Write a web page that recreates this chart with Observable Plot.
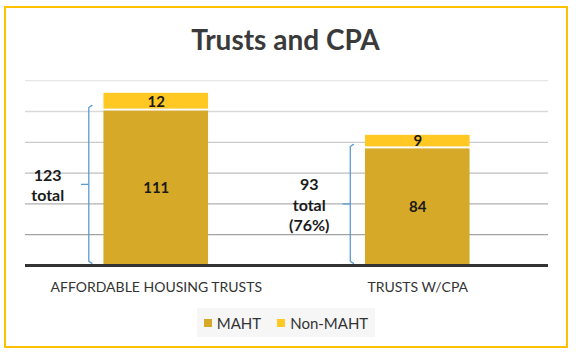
<!DOCTYPE html>
<html>
<head>
<meta charset="utf-8">
<script src="https://cdn.jsdelivr.net/npm/d3@7"></script>
<script src="https://cdn.jsdelivr.net/npm/@observablehq/plot@0.6"></script>
<style>
  html, body { margin: 0; padding: 0; background: #fff; }
  #wrap { position: relative; width: 576px; height: 355px; overflow: hidden; font-family: Lato, "Open Sans", sans-serif; }
  #frame { position: absolute; left: 4px; top: 6px; width: 564px; height: 342px; box-sizing: border-box; border: 2px solid #FFC000; }
  #title { position: absolute; left: 0; width: 571px; top: 23px; height: 32px; line-height: 32px; text-align: center; font-size: 28px; font-weight: 700; color: #3a3a3a; }
  #chart { position: absolute; left: 0; top: 0; }
  #legend { position: absolute; left: 197px; top: 308px; width: 178px; height: 29px; background: #f6f6f6; display: flex; align-items: center; justify-content: center; font-size: 15px; color: #333; }
  .sw { width: 8px; height: 8px; display: inline-block; margin-right: 5px; }
  .item { display: flex; align-items: center; }
  .item + .item { margin-left: 16px; }
</style>
</head>
<body>
<div id="wrap">
  <div id="frame"></div>
  <div id="chart"></div>
  <div id="title"></div>
  <div id="legend"></div>
</div>
<script>
const titleText = "Trusts and CPA";
const categories = ["AFFORDABLE HOUSING TRUSTS", "TRUSTS W/CPA"];
const mahtValues = [111, 84];
const nonMahtValues = [12, 9];
const totalValues = [123, 93];
const totalLabels = ["123\ntotal", "93\ntotal\n(76%)"];
const seriesNames = ["MAHT", "Non-MAHT"];
const gridTicks = [22, 44, 66, 88, 110, 132];

const colors = { "MAHT": "#D6A928", "Non-MAHT": "#FFC823" };
const bracketColor = "#5B9BD5";

const rows = categories.map((c, i) => ({
  i, category: c, maht: mahtValues[i], nonMaht: nonMahtValues[i],
  total: totalValues[i], totalLabel: totalLabels[i]
}));

const half = 0.2;        // bar half-width in x units
const bOff = -0.258;     // bracket offset
const hook = 0.012;
const tickLen = 0.03;
const labelOff = -0.415;

const bracketPts = rows.flatMap(d => {
  const top = d.total * 0.93, bot = 1.5, bx = d.i + bOff;
  return [
    {k: d.i, x: bx + hook, y: top},
    {k: d.i, x: bx, y: top - 1.5},
    {k: d.i, x: bx, y: bot + 1.5},
    {k: d.i, x: bx + hook, y: bot}
  ];
});
const bracketMid = rows.map(d => ({
  x1: d.i + bOff, x2: d.i + bOff - tickLen, y: (d.total * 0.93 + 1.5) / 2,
  label: d.totalLabel, lx: d.i + labelOff
}));

const gridColor = d3.scaleLinear().domain([22, 132]).range(["#a3a3a3", "#e6e6e6"]);

const chart = Plot.plot({
  width: 576,
  height: 300,
  marginLeft: 25,
  marginRight: 28,
  marginTop: 69,
  marginBottom: 35,
  style: { fontFamily: "Lato, 'Open Sans', sans-serif", background: "transparent" },
  x: { type: "linear", domain: [-0.5, 1.5], axis: null },
  y: { domain: [0, 140], axis: null },
  marks: [
    Plot.ruleY(gridTicks, { stroke: d => gridColor(d), strokeWidth: 1.3 }),
    Plot.rectY(rows, { x1: d => d.i - half, x2: d => d.i + half, y1: 0, y2: "maht", fill: colors["MAHT"], insetTop: 1 }),
    Plot.rectY(rows, { x1: d => d.i - half, x2: d => d.i + half, y1: "maht", y2: "total", fill: colors["Non-MAHT"], insetBottom: 1 }),
    Plot.ruleY([0], { stroke: "#333", strokeWidth: 3 }),
    Plot.line(bracketPts, { x: "x", y: "y", z: "k", stroke: bracketColor, strokeWidth: 1.3 }),
    Plot.link(bracketMid, { x1: "x1", x2: "x2", y1: "y", y2: "y", stroke: bracketColor, strokeWidth: 1.3 }),
    Plot.text(bracketMid, { x: "lx", y: "y", text: "label", fontSize: 16, fontWeight: 700, fill: "#1a1a1a", lineHeight: 1.3, textAnchor: "middle" }),
    Plot.text(rows, { x: "i", y: d => d.maht / 2, text: d => String(d.maht), fontSize: 15, fontWeight: 700, fill: "#1a1a1a" }),
    Plot.text(rows, { x: "i", y: d => d.maht + d.nonMaht / 2, text: d => String(d.nonMaht), fontSize: 15, fontWeight: 700, fill: "#1a1a1a" }),
    Plot.text(rows, { x: "i", y: 0, dy: 22, text: "category", fontSize: 14, fill: "#333" })
  ]
});
document.getElementById("chart").appendChild(chart);
document.getElementById("title").textContent = titleText;

const legend = document.getElementById("legend");
seriesNames.forEach(name => {
  const item = document.createElement("div");
  item.className = "item";
  const sw = document.createElement("span");
  sw.className = "sw";
  sw.style.background = colors[name];
  const t = document.createElement("span");
  t.textContent = name;
  item.appendChild(sw);
  item.appendChild(t);
  legend.appendChild(item);
});
</script>
</body>
</html>
